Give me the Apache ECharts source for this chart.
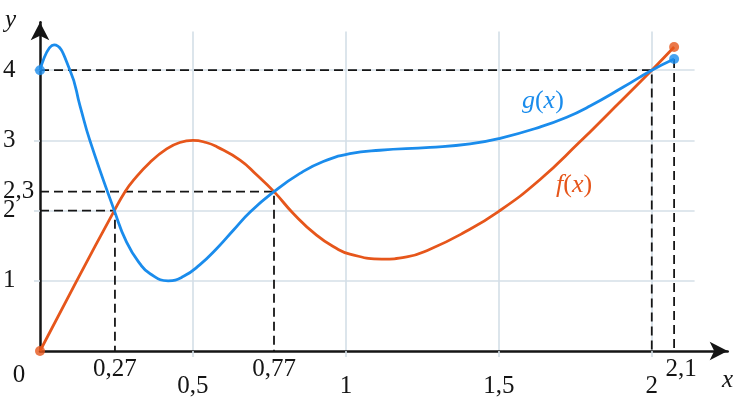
<!DOCTYPE html>
<html><head><meta charset="utf-8">
<script src="https://cdn.jsdelivr.net/npm/echarts@6/dist/echarts.min.js"></script>
<style>html,body{margin:0;padding:0;background:#fff}#c{width:740px;height:402px}</style>
</head><body><div id="c"></div>
<script>
// f(x) – orange curve
const fX = [0, 0.12, 0.243, 0.278, 0.305, 0.36, 0.414, 0.457, 0.5, 0.543, 0.578, 0.654, 0.708, 0.765, 0.828, 0.904, 0.970, 1.013, 1.117, 1.199, 1.275, 1.383, 1.5, 1.634, 1.765, 1.853, 2.0, 2.073];
const fY = [0, 1.0, 2.0, 2.27, 2.43, 2.69, 2.88, 2.97, 3.0, 2.97, 2.91, 2.72, 2.51, 2.27, 1.96, 1.65, 1.46, 1.38, 1.31, 1.34, 1.45, 1.68, 1.99, 2.44, 2.98, 3.36, 4.0, 4.33];
// g(x) – blue curve
const gX = [0, 0.046, 0.098, 0.131, 0.163, 0.243, 0.283, 0.327, 0.36, 0.419, 0.468, 0.523, 0.578, 0.632, 0.687, 0.765, 0.850, 0.926, 1.013, 1.111, 1.275, 1.406, 1.504, 1.634, 1.722, 1.798, 1.907, 2.0, 2.073];
const gY = [4.0, 4.36, 4.0, 3.49, 3.0, 2.0, 1.55, 1.24, 1.1, 1.0, 1.06, 1.23, 1.46, 1.72, 1.98, 2.27, 2.53, 2.70, 2.81, 2.86, 2.90, 2.95, 3.03, 3.19, 3.33, 3.49, 3.76, 4.0, 4.16];
// intersection points (dashed guides)
const crossX = [0.245, 0.765, 2.0];
const crossY = [2.0, 2.27, 4.0];
// tick labels
const xTickValues = [0.5, 1, 1.5, 2];
const xTickLabels = ['0,5', '1', '1,5', '2'];
const xMarkValues = [0, 0.245, 0.765, 2.073];
const xMarkLabels = ['0', '0,27', '0,77', '2,1'];
const yTickValues = [1, 2, 3, 4];
const yLabelValues = [1, 2, 2.27, 3, 4];
const yLabelTexts = ['1', '2', '2,3', '3', '4'];

const ORANGE = '#e6561b', BLUE = '#1a8cec', GRID = '#d4dfe7', INK = '#151515';
const FONT = '"Liberation Serif", "Times New Roman", serif';

function pairs(xs, ys) { return xs.map((x, i) => [x, ys[i]]); }
function lookup(vals, texts, v) {
  const i = vals.findIndex(a => Math.abs(a - v) < 1e-9);
  return i < 0 ? '' : texts[i];
}

const fData = pairs(fX, fY), gData = pairs(gX, gY);
const endX = fX[fX.length - 1];
const gEnd = gY[gY.length - 1];

const dashStyle = { color: INK, width: 1.8, type: [9, 5] };
const guideSeries = crossX.map((cx, i) => ({
  type: 'line', xAxisIndex: 0, yAxisIndex: 0, silent: true, symbol: 'none', z: 3,
  lineStyle: dashStyle,
  data: [[0, crossY[i]], [cx, crossY[i]], [cx, 0]]
}));
guideSeries.push({
  type: 'line', xAxisIndex: 0, yAxisIndex: 0, silent: true, symbol: 'none', z: 3,
  lineStyle: dashStyle,
  data: [[endX, gEnd], [endX, 0]]
});

const XMAX = 2.14, YMAX = 4.55;
const chart = echarts.init(document.getElementById('c'), null, { renderer: 'canvas' });
chart.setOption({
  animation: false,
  backgroundColor: '#fff',
  grid: [
    { left: 40, right: 45.4, top: 31.6, bottom: 51, outerBoundsMode: 'none' },
    { left: 40, right: 12.3, top: 22.3, bottom: 51, outerBoundsMode: 'none' }
  ],
  xAxis: [
    { type: 'value', gridIndex: 0, min: 0, max: XMAX, interval: 0.5, position: 'bottom',
      axisLine: { show: false },
      axisTick: { show: true, customValues: xTickValues, length: 6, lineStyle: { color: GRID, width: 1.6 } },
      splitLine: { show: true, lineStyle: { color: GRID, width: 1.6 } },
      axisLabel: { customValues: xTickValues, margin: 23, color: INK, fontFamily: FONT, fontSize: 25,
        formatter: v => lookup(xTickValues, xTickLabels, v) } },
    { type: 'value', gridIndex: 0, min: 0, max: XMAX, position: 'bottom', offset: 0,
      axisLine: { show: false }, axisTick: { show: false }, splitLine: { show: false },
      axisLabel: { customValues: xMarkValues, margin: 6, color: INK, fontFamily: FONT, fontSize: 25,
        formatter: v => {
          const t = lookup(xMarkValues, xMarkLabels, v);
          if (v === 0) return '{z|' + t + '}';
          if (v === xMarkValues[xMarkValues.length - 1]) return '{r|' + t + '}';
          return t;
        },
        rich: {
          z: { fontFamily: FONT, fontSize: 25, color: INK, padding: [6, 42, 0, 0] },
          r: { fontFamily: FONT, fontSize: 25, color: INK, padding: [0, 0, 0, 14] }
        } } },
    { type: 'value', gridIndex: 1, min: 0, max: 1,
      axisLine: { show: true, symbol: ['none', 'arrow'], symbolSize: [14, 18], lineStyle: { color: INK, width: 2.5 } },
      axisTick: { show: false }, axisLabel: { show: false }, splitLine: { show: false } }
  ],
  yAxis: [
    { type: 'value', gridIndex: 0, min: 0, max: YMAX, interval: 1,
      axisLine: { show: false },
      axisTick: { show: true, customValues: yTickValues, length: 6, lineStyle: { color: GRID, width: 1.6 } },
      splitLine: { show: true, lineStyle: { color: GRID, width: 1.6 } },
      axisLabel: { customValues: yLabelValues, margin: 37, align: 'left', color: INK, fontFamily: FONT, fontSize: 25,
        formatter: v => lookup(yLabelValues, yLabelTexts, v) } },
    { type: 'value', gridIndex: 1, min: 0, max: 1,
      axisLine: { show: true, symbol: ['none', 'arrow'], symbolSize: [14, 18], lineStyle: { color: INK, width: 2.5 } },
      axisTick: { show: false }, axisLabel: { show: false }, splitLine: { show: false } }
  ],
  graphic: [
    { type: 'text', left: 5, top: 8, z: 100, style: { text: 'y', font: 'italic 25px ' + FONT, fill: INK } },
    { type: 'text', left: 722, top: 368, z: 100, style: { text: 'x', font: 'italic 25px ' + FONT, fill: INK } }
  ],
  series: guideSeries.concat([
    { name: 'f(x)', type: 'line', xAxisIndex: 0, yAxisIndex: 0, smooth: 0.5, showSymbol: false, z: 5,
      lineStyle: { color: ORANGE, width: 2.8 }, data: fData,
      markPoint: { symbol: 'circle', symbolSize: 0, silent: true,
        data: [{ coord: [1.746, 2.36], label: { show: true, position: 'inside', formatter: '{i|f}{n|(}{i|x}{n|)}',
          rich: { i: { fontFamily: FONT, fontStyle: 'italic', fontSize: 26, color: ORANGE },
                  n: { fontFamily: FONT, fontSize: 26, color: ORANGE } } } }] } },
    { name: 'g(x)', type: 'line', xAxisIndex: 0, yAxisIndex: 0, smooth: 0.5, showSymbol: false, z: 6,
      lineStyle: { color: BLUE, width: 2.8 }, data: gData,
      markPoint: { symbol: 'circle', symbolSize: 0, silent: true,
        data: [{ coord: [1.644, 3.56], label: { show: true, position: 'inside', formatter: '{i|g}{n|(}{i|x}{n|)}',
          rich: { i: { fontFamily: FONT, fontStyle: 'italic', fontSize: 26, color: BLUE },
                  n: { fontFamily: FONT, fontSize: 26, color: BLUE } } } }] } },
    { type: 'scatter', xAxisIndex: 0, yAxisIndex: 0, symbolSize: 10, z: 8, silent: true,
      itemStyle: { color: ORANGE }, data: [fData[0], fData[fData.length - 1]] },
    { type: 'scatter', xAxisIndex: 0, yAxisIndex: 0, symbolSize: 10, z: 8, silent: true,
      itemStyle: { color: BLUE }, data: [gData[0], gData[gData.length - 1]] }
  ])
});
</script>
</body></html>
